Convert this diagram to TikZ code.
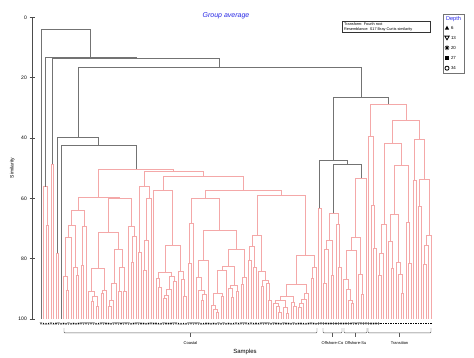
\documentclass[tikz,border=0pt]{standalone}
\usepackage{fontspec}
\setmainfont{Liberation Sans}
\definecolor{pkc}{RGB}{244,168,168}
\definecolor{grc}{RGB}{115,115,115}
\definecolor{tb}{RGB}{40,40,230}
\tikzset{
  pkline/.style={draw=pkc,line width=0.6pt},
  grline/.style={draw=grc,line width=0.65pt},
  axisline/.style={draw=black!70,line width=0.5pt},
  brline/.style={draw=black!65,line width=0.45pt},
  ticklab/.style={font=\fontsize{5}{6}\selectfont,anchor=east,inner sep=0pt},
  smalltxt/.style={font=\fontsize{4}{5}\selectfont,inner sep=0pt},
}
% leaf handling
\gdef\leafx{41}
\newcommand\Lf{\xdef\rx{\leafx}\gdef\ry{100}\pgfmathsetmacro\tmpx{\leafx+2.5}\xdef\leafx{\tmpx}}
% join of two subtrees: style, height, left code, right code
\newcommand\J[4]{\begingroup #3\edef\lx{\rx}\edef\ly{\ry}#4\edef\mx{\rx}\edef\my{\ry}%
  \draw[#1] (\lx,\ly) -- (\lx,#2) -- (\mx,#2) -- (\mx,\my);%
  \pgfmathsetmacro\cx{(\lx+\mx)/2}\xdef\rx{\cx}\xdef\ry{#2}\endgroup}
% random subtree: leaves, height, style
\newcommand\R[3]{\ifnum#1=1 \Lf\else\Rsplit{#1}{#2}{#3}\fi}
\newcommand\Rsplit[3]{\begingroup
  \pgfmathtruncatemacro\nm{#1-1}%
  \pgfmathrandominteger\ra{1}{\nm}%
  \pgfmathtruncatemacro\rb{#1-\ra}%
  \pgfmathsetmacro\ha{#2+(100-#2)*(0.08+0.42*rnd)}%
  \pgfmathsetmacro\hb{#2+(100-#2)*(0.08+0.42*rnd)}%
  \edef\nxt{\noexpand\J{#3}{#2}{\noexpand\R{\ra}{\ha}{#3}}{\noexpand\R{\rb}{\hb}{#3}}}%
  \expandafter\endgroup\nxt}
% markers: type, x, y, size, line width
\newcommand\mk[5]{\ifcase#1\or
  \fill[black] (#2-#4,#3+0.9*#4) -- (#2+#4,#3+0.9*#4) -- (#2,#3-0.9*#4) -- cycle;\or
  \draw[black,line width=#5] (#2-#4,#3-0.8*#4) -- (#2+#4,#3-0.8*#4) -- (#2,#3+0.9*#4) -- cycle;\or
  \draw[black,line width=#5] (#2-#4,#3)--(#2+#4,#3) (#2,#3-#4)--(#2,#3+#4) (#2-0.7*#4,#3-0.7*#4)--(#2+0.7*#4,#3+0.7*#4) (#2-0.7*#4,#3+0.7*#4)--(#2+0.7*#4,#3-0.7*#4);\or
  \fill[black] (#2-0.85*#4,#3-0.85*#4) rectangle (#2+0.85*#4,#3+0.85*#4);\or
  \draw[black,line width=#5] (#2,#3) circle[radius={#4*0.85pt}];\fi}
\newcommand\brk[4]{%
  \draw[brline,rounded corners=0.8pt] (#1,328) -- (#1,332.8) -- (#2,332.8) -- (#2,328);
  \draw[brline] ({(#1+#2)/2},332.8) -- ({(#1+#2)/2},337);
  \node[smalltxt] (#4) at ({(#1+#2)/2},343.3) {#3};}
\begin{document}
\begin{tikzpicture}[x=1pt,y=-1pt]
\useasboundingbox (0,0) rectangle (474,358);
\fill[white] (0,0) rectangle (474,358);
% axis
\draw[axisline] (32,17.3) -- (32,319);
\foreach \s in {0,20,40,60,80,100}{
  \pgfmathsetmacro\yy{17.3+3.017*\s}
  \draw[axisline] (29.5,\yy) -- (34.5,\yy);
  \node[ticklab] (t\s) at (27,\yy) {\s};
}
\node[font=\fontsize{5}{6}\selectfont,rotate=90] (ylab) at (12.3,168) {Similarity};
\node[font=\fontsize{6}{7}\selectfont] (xlab) at (245,352) {Samples};
% title and boxes
\node[font=\fontsize{7}{8}\selectfont\itshape,text=tb] (title) at (226,16) {Group average};
\draw[black!80,line width=0.4pt] (342,21) rectangle (430,32);
\node[font=\fontsize{3.8}{4.6}\selectfont,anchor=west,inner sep=0pt] (tr) at (344,24.1) {Transform: Fourth root};
\node[font=\fontsize{3.8}{4.6}\selectfont,anchor=west,inner sep=0pt] (rs) at (344,29.1) {Resemblance: S17 Bray Curtis similarity};
\draw[black!55,line width=0.4pt] (443,14) rectangle (464,73);
\node[font=\fontsize{5.6}{6}\selectfont,text=tb] (dep) at (453.5,18.6) {Depth};
\mk{1}{447}{27.7}{2.2}{0.8pt}
\mk{2}{447}{37.9}{2.2}{0.8pt}
\mk{3}{447}{47.8}{2.4}{0.55pt}
\mk{4}{447}{57.8}{2.2}{0.8pt}
\mk{5}{447}{68.2}{2.4}{0.8pt}
\node[font=\fontsize{4.4}{5}\selectfont,anchor=west,inner sep=0pt] (d6) at (450.8,27.7) {6};
\node[font=\fontsize{4.4}{5}\selectfont,anchor=west,inner sep=0pt] (d13) at (450.8,37.7) {13};
\node[font=\fontsize{4.4}{5}\selectfont,anchor=west,inner sep=0pt] (d20) at (450.8,47.7) {20};
\node[font=\fontsize{4.4}{5}\selectfont,anchor=west,inner sep=0pt] (d27) at (450.8,57.7) {27};
\node[font=\fontsize{4.4}{5}\selectfont,anchor=west,inner sep=0pt] (d34) at (450.8,68.2) {34};
% dendrogram
\begin{scope}[shift={(0,17.3)},yscale=3.017]
\pgfmathsetseed{7}
\J{grline}{4.0}{\Lf}{%
 \J{grline}{13.4}{\J{pkline}{56.1}{\Lf}{\J{pkline}{68.8}{\Lf}{\Lf}}}{%
  \J{grline}{13.7}{\J{pkline}{48.6}{\Lf}{\Lf}}{%
   \J{grline}{16.5}{%
    \J{grline}{39.9}{\J{pkline}{78.1}{\Lf}{\Lf}}{%
     \J{grline}{42.4}{\Lf}{%
      \J{pkline}{50.3}{%
        \J{pkline}{59.5}{\R{10}{63.9}{pkline}}{\R{20}{59.9}{pkline}}}{%
        \J{pkline}{50.9}{\R{6}{56}{pkline}}{%
          \J{pkline}{52.8}{\R{14}{57.2}{pkline}}{%
            \J{pkline}{57.2}{\R{24}{60}{pkline}}{\R{28}{59}{pkline}}}}}}}}{%
    \J{grline}{26.5}{%
      \J{grline}{47.3}{\R{2}{63.3}{pkline}}{%
        \J{grline}{48.6}{\R{8}{65}{pkline}}{\R{10}{53.4}{pkline}}}}{%
      \J{pkline}{28.8}{\R{4}{39.3}{pkline}}{%
        \J{pkline}{34}{\R{14}{41.8}{pkline}}{\R{8}{40.4}{pkline}}}}}}}}
\end{scope}
% leaf markers
\foreach \i in {0,...,156}{%
  \pgfmathsetmacro\xx{41+2.5*\i}%
  \ifnum\i>135 \def\mt{4}\else\ifnum\i>110 \pgfmathrandominteger\mt{2}{5}\ifnum\mt=4 \def\mt{5}\fi\else\pgfmathrandominteger\mt{1}{3}\fi\fi
  \mk{\mt}{\xx}{323.5}{1}{0.3pt}
}
% group brackets
\brk{64}{317}{Coastal}{bc}
\brk{323}{342}{Offshore-Co}{boc}
\brk{344}{367}{Offshore-Su}{bos}
\brk{368}{431}{Transition}{btr}
\end{tikzpicture}
\end{document}
